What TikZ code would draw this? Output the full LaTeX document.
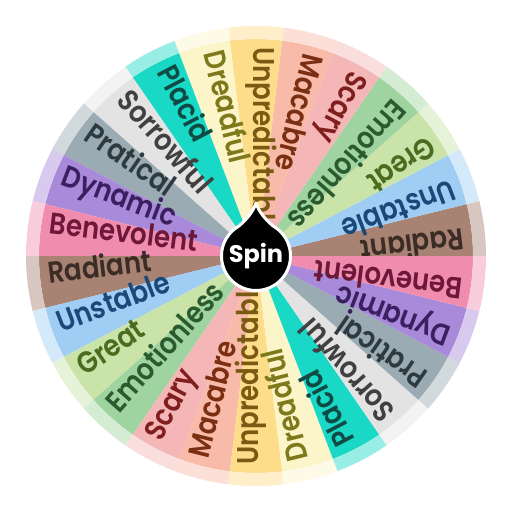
\documentclass[tikz,border=0pt]{standalone}
\usepackage{fontspec}
\setmainfont{Poppins}
\newfontfamily\wheelfont{Poppins SemiBold}[FakeStretch=0.87]
\definecolor{cRad}{HTML}{A88273}\definecolor{tRad}{HTML}{3B2C25}
\definecolor{cUns}{HTML}{9FCDF3}\definecolor{tUns}{HTML}{1B4878}
\definecolor{cGre}{HTML}{C9E3A9}\definecolor{tGre}{HTML}{4B6B1F}
\definecolor{cEmo}{HTML}{9FD4A0}\definecolor{tEmo}{HTML}{2A5A2E}
\definecolor{cSca}{HTML}{F4B6B6}\definecolor{tSca}{HTML}{7E1E1E}
\definecolor{cMac}{HTML}{F9BBA9}\definecolor{tMac}{HTML}{7A2E12}
\definecolor{cUnp}{HTML}{FDDC8A}\definecolor{tUnp}{HTML}{7A5A12}
\definecolor{cDre}{HTML}{FBF5C9}\definecolor{tDre}{HTML}{7E7A1C}
\definecolor{cPla}{HTML}{1AD8C6}\definecolor{tPla}{HTML}{0F4B45}
\definecolor{cSor}{HTML}{E3E3E3}\definecolor{tSor}{HTML}{404040}
\definecolor{cPra}{HTML}{9AABB3}\definecolor{tPra}{HTML}{2E3A40}
\definecolor{cDyn}{HTML}{A98ADA}\definecolor{tDyn}{HTML}{3A2060}
\definecolor{cBen}{HTML}{F08DAF}\definecolor{tBen}{HTML}{6D1838}
\tikzset{
  wordlabel/.style={anchor=mid west, inner sep=0pt, font=\wheelfont\fontsize{30}{30}\selectfont},
  spinbtn/.style={draw=white, line width=3pt, fill=black, line join=round},
  spintext/.style={text=white, font=\bfseries\fontsize{24}{24}\selectfont}
}
\begin{document}
\begin{tikzpicture}[x=1pt,y=1pt]
\useasboundingbox (-256,-256) rectangle (256,256);
\foreach \k in {0,1} {
  \foreach \name/\fc/\tc [count=\i from 0] in {Radiant/cRad/tRad, Unstable/cUns/tUns, Great/cGre/tGre, Emotionless/cEmo/tEmo, Scary/cSca/tSca, Macabre/cMac/tMac, Unpredictable/cUnp/tUnp, Dreadful/cDre/tDre, Placid/cPla/tPla, Sorrowful/cSor/tSor, Pratical/cPra/tPra, Dynamic/cDyn/tDyn, Benevolent/cBen/tBen} {
    \pgfmathsetmacro\a{\i*360/26+180*\k}
    \pgfmathsetmacro\b{(\i+1)*360/26+180*\k}
    \pgfmathsetmacro\m{(\i+0.5)*360/26+180*\k}
    \fill[\fc] (0,0) -- (\a:217) arc[start angle=\a, end angle=\b, radius=217] -- cycle;
    \fill[\fc!45!white] (\a:217) arc[start angle=\a, end angle=\b, radius=217] -- (\b:230) arc[start angle=\b, end angle=\a, radius=230] -- cycle;
    \node[wordlabel, text=\tc, rotate=\m+180] (w\k-\i) at (\m:209) {\name};
  }
}
\path[spinbtn] (0,53) .. controls (3,44) and (9,37) .. (60:34.5) arc[start angle=60, end angle=-240, radius=34.5] .. controls (-9,37) and (-3,44) .. (0,53) -- cycle;
\node[spintext] (spin) at (0,0) {Spin};
\end{tikzpicture}
\end{document}
